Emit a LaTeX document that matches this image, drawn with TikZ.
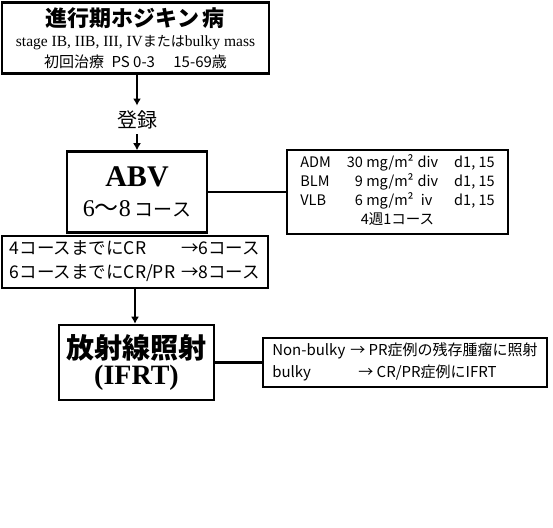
\documentclass[tikz,border=0pt]{standalone}
\usepackage{fontspec}
\setmainfont{Noto Sans CJK JP}
\newfontfamily\serifrm{Liberation Serif}
\usetikzlibrary{arrows.meta}
\begin{document}
\begin{tikzpicture}[>={Latex[length=7bp,width=8bp]},line join=miter,
  box/.style={draw,line width=2.5bp,inner sep=0pt,align=center},
  link/.style={line width=2.5bp},
  x=1bp,y=1bp]
  \useasboundingbox (0,0) rectangle (553,528);
%%
  % Node: hodgkin
  \node [box,minimum width=267bp,minimum height=71bp] (hodgkin) at (135.5,490)
    {{\fontsize{22bp}{26bp}\selectfont\bfseries 進行期ホジキン\,病}\\[6bp]
     {\fontsize{15.5bp}{19bp}\selectfont\serifrm stage IB, IIB, III, IV{\mdseries\rmfamily\fontsize{14bp}{19bp}\selectfont または}bulky mass}\\[4bp]
     {\fontsize{15bp}{19bp}\selectfont 初回治療\enspace PS 0-3\quad\ 15-69歳}};
  % Node: entry
  \node [inner sep=5bp,font=\fontsize{20bp}{24bp}\selectfont] (entry) at (137,408) {登録};
  % Node: abv
  \node [box,minimum width=140bp,minimum height=81bp] (abv) at (137,336)
    {{\fontsize{30bp}{34bp}\selectfont\serifrm\bfseries ABV}\\[12bp]
     {\fontsize{24bp}{28bp}\selectfont\serifrm 6{\rmfamily 〜}8\,{\rmfamily\fontsize{19bp}{22bp}\selectfont コース}}};
  % Node: dosing
  \node [box,minimum width=221bp,minimum height=84bp] (dosing) at (397.5,336)
    {\fontsize{14.5bp}{19bp}\selectfont
     \begin{tabular}{@{}l@{\hspace{16bp}}r@{\hspace{4bp}}l@{\hspace{16bp}}l@{}}
      ADM & 30 mg/m² & div & d1, 15\\
      BLM & 9 mg/m² & div & d1, 15\\
      VLB & 6 mg/m² & \ iv & d1, 15\\
      \multicolumn{4}{c}{4週1コース}
     \end{tabular}};
  % Node: response
  \node [box,minimum width=266bp,minimum height=52bp] (response) at (135,266)
    {\fontsize{17.5bp}{24bp}\selectfont
     \begin{tabular}{@{}l@{\hspace{6bp}}l@{}}
      4コースまでにCR & →6コース\\
      6コースまでにCR/PR & →8コース
     \end{tabular}};
  % Node: ifrt
  \node [box,minimum width=155bp,minimum height=75bp] (ifrt) at (136.5,165.5)
    {{\fontsize{28bp}{32bp}\selectfont\bfseries 放射線照射}\\[3bp]
     {\fontsize{28bp}{32bp}\selectfont\serifrm\bfseries (IFRT)}};
  % Node: target
  \node [box,minimum width=284bp,minimum height=49bp] (target) at (405,165.5)
    {\fontsize{15bp}{22bp}\selectfont
     \begin{tabular}{@{}l@{\hspace{5bp}}l@{}}
      Non-bulky & → PR症例の残存腫瘤に照射\\
      bulky & \hspace{8bp}→ CR/PR症例にIFRT
     \end{tabular}};
%%
  % Edge: hodgkin -> entry
  \draw [link,->] (entry |- hodgkin.south) -- (entry.north);
  % Edge: entry -> abv
  \draw [link,->] (entry.south) -- (abv.north -| entry);
  % Edge: abv -- dosing
  \draw [link] (abv.east) -- (dosing.west);
  % Edge: response -> ifrt
  \draw [link,->] (response.south) -- (response.south |- ifrt.north);
  % Edge: ifrt -- target
  \draw [link] (ifrt.east) -- (target.west);
%
\end{tikzpicture}
\end{document}
